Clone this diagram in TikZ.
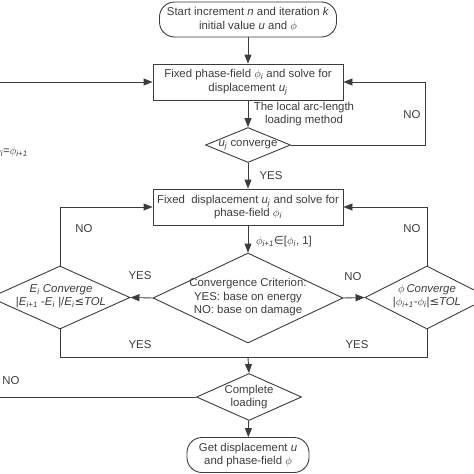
\documentclass[tikz,border=0pt]{standalone}
\usepackage{fontspec}
\setmainfont{Liberation Sans}
\newfontfamily\symfont{DejaVu Sans}
\usetikzlibrary{shapes.geometric, arrows.meta, positioning, calc}
\definecolor{linegray}{HTML}{3C3C3C}
\newcommand{\fphi}{$\phi$}
\newcommand{\lo}[1]{\textsubscript{\textit{#1}}}
\tikzstyle{startstop} = [rectangle, rounded corners=15pt, draw=linegray, line width=0.9pt, inner sep=0pt, align=center]
\tikzstyle{process} = [rectangle, draw=linegray, line width=0.9pt, inner sep=0pt, align=center, minimum width=190pt, minimum height=36pt]
\tikzstyle{decision} = [diamond, draw=linegray, line width=0.9pt, inner sep=0pt]
\tikzstyle{lbl} = [inner sep=0pt, align=center]
\tikzstyle{arrow} = [line width=0.9pt, draw=linegray, -{Triangle[length=9pt,width=7pt]}]
\tikzstyle{line} = [line width=0.9pt, draw=linegray]

\begin{document}
\begin{tikzpicture}[x=1pt, y=-1pt, every node/.style={text=linegray, font=\fontsize{11.4}{13.5}\selectfont}]
      \clip (0,0) rectangle (474,474);

      % Boxes
      \node[startstop, minimum width=177pt, minimum height=35pt] (start) at (248,19.5)
        {Start increment \textit{n} and iteration \textit{k}\\ initial value \textit{u} and \fphi};
      \node[process] (fixphase) at (248,82)
        {Fixed phase-field \fphi\lo{i} and solve for\\ displacement \textit{u}\lo{j}};
      \node[decision, minimum width=85pt, minimum height=35pt] (uconv) at (248,145) {};
      \node[lbl] (uconvtext) at (uconv) {\textit{u}\lo{j} converge};
      \node[process] (fixdisp) at (248,207)
        {Fixed~ displacement \textit{u}\lo{j} and solve for\\ phase-field \fphi\lo{i}};

      % Criterion and the two checks
      \node[decision, minimum width=190pt, minimum height=90pt] (crit) at (248,298) {};
      \node[lbl] (crittext) at (248,297.5)
        {Convergence Criterion:\\ YES: base on energy\\ NO: base on damage};
      \node[decision, minimum width=140pt, minimum height=63pt] (econv) at (60,297.5) {};
      \node[lbl] (econvtext) at (61,296)
        {\textit{E}\lo{i} \textit{Converge}\\ |\textit{E}\lo{i+1} -\textit{E}\lo{i} |/\textit{E}\lo{i}{\symfont ≤}\textit{TOL}};
      \node[decision, minimum width=124pt, minimum height=63pt] (pconv) at (427,297.5) {};
      \node[lbl] (pconvtext) at (427,296)
        {\fphi\,\textit{Converge}\\ |\fphi\lo{i+1}-\fphi\lo{i}|{\symfont ≤}\textit{TOL}};

      \node[decision, minimum width=105pt, minimum height=47pt] (complete) at (249,397) {};
      \node[lbl] (completetext) at (complete) {Complete\\ loading};
      \node[startstop, minimum width=122pt, minimum height=35pt] (finish) at (248,455)
        {Get displacement \textit{u}\\ and phase-field \fphi};

      % Bend points
      \coordinate (farleft) at (-30,0);
      \coordinate (rloop) at (425,0);
      \coordinate (join) at (248,357.5);

      % Connectors
      \draw[arrow] (start) -- (fixphase);
      \draw[arrow] (fixphase) -- (uconv);
      \draw[arrow] (uconv) -- (fixdisp);
      \draw[arrow] (fixdisp) -- (crit);
      \draw[arrow] (uconv.east) -- (uconv.east -| rloop) |- (fixphase.east);
      \draw[arrow] (crit.west) -- (econv.east);
      \draw[arrow] (crit.east) -- (pconv.west);
      \draw[arrow] (econv.north) |- (fixdisp.west);
      \draw[arrow] (pconv.north) |- (fixdisp.east);
      \draw[line] (econv.south) |- (join) -| (pconv.south);
      \draw[arrow] (join) -- (complete.north);
      \draw[arrow] (complete) -- (finish);
      \draw[arrow] (complete.west) -- (complete.west -| farleft) |- (fixphase.west);

      % Labels
      \node[lbl] (arclen) at (304,114) {The local arc-length\\ loading method};
      \node[lbl] (no1) at (412,115) {NO};
      \node[lbl] (yes1) at (271,176) {YES};
      \node[lbl] (range) at (284,242) {\fphi\lo{i+1}{\symfont ∈}[\fphi\lo{i}, 1]};
      \node[lbl] (no2) at (84,229) {NO};
      \node[lbl] (no3) at (412,229) {NO};
      \node[lbl] (yes2) at (140,276) {YES};
      \node[lbl] (no4) at (353,277) {NO};
      \node[lbl] (yes3) at (140,345) {YES};
      \node[lbl] (yes4) at (357,345) {YES};
      \node[lbl] (no5) at (11,381) {NO};
      \node[lbl, anchor=east] (update) at (28,152) {\fphi\lo{i}=\fphi\lo{i+1}};
    \end{tikzpicture}
\end{document}
